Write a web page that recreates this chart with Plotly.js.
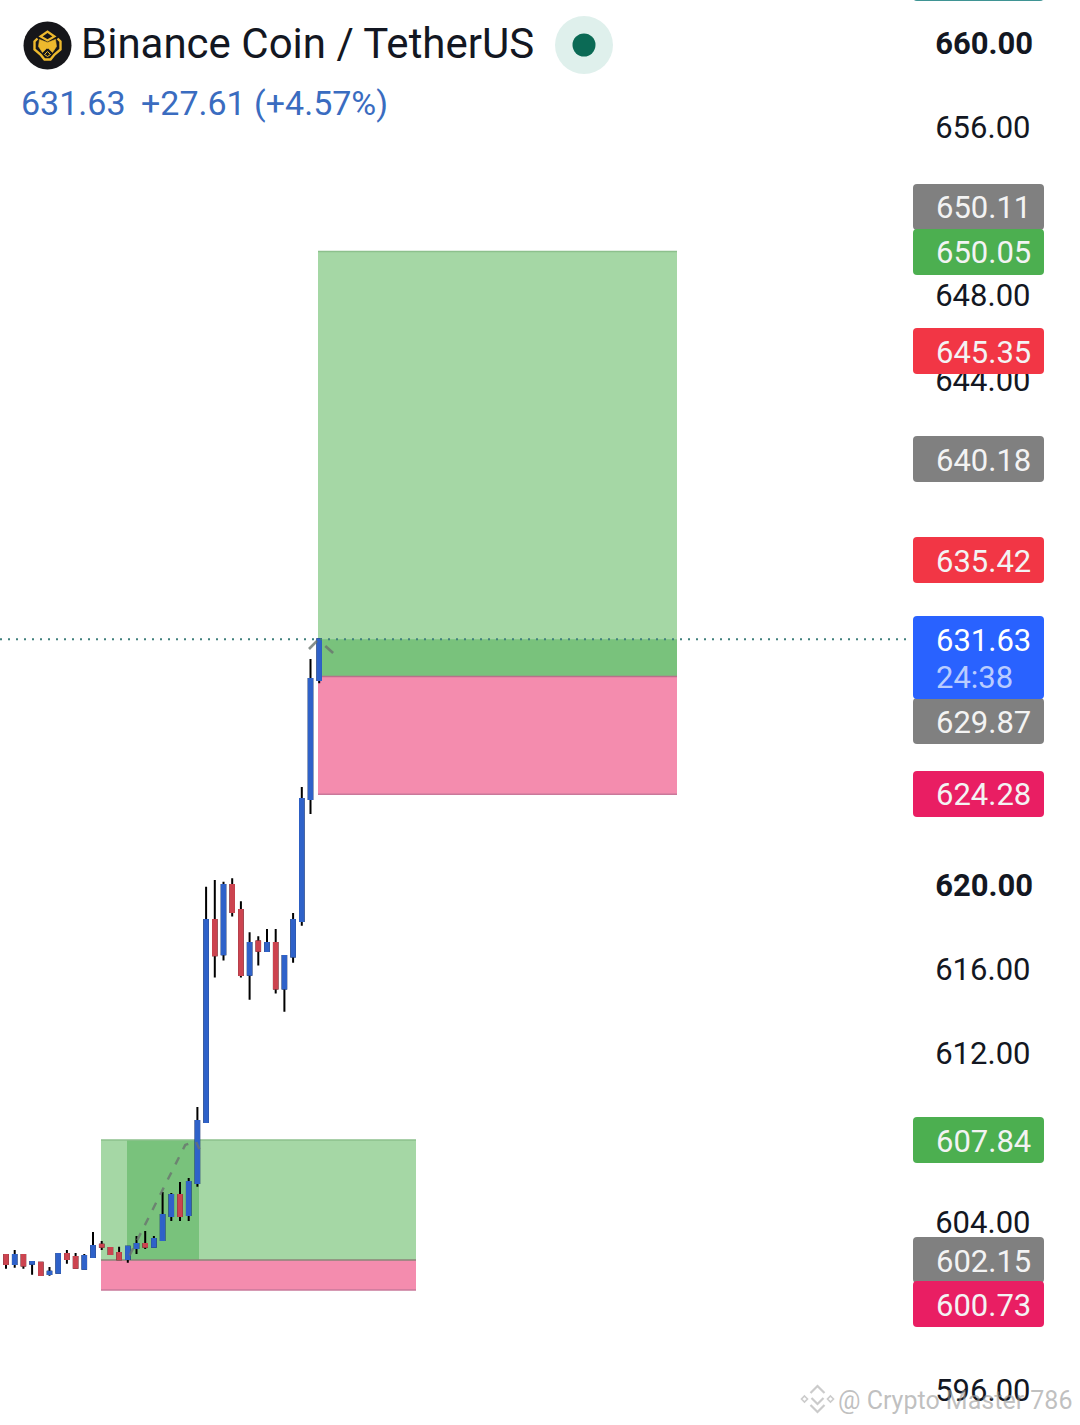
<!DOCTYPE html>
<html><head><meta charset="utf-8">
<script src="https://cdn.plot.ly/plotly-3.0.1.min.js"></script>
<style>html,body{margin:0;padding:0;background:#fff}#c{width:1080px;height:1425px}</style>
</head><body><div id="c"></div>
<script>
// ---- data ----
const opens  = [602.42,601.99,602.42,602.01,602.06,601.52,601.58,602.47,602.33,601.77,602.33,602.91,602.75,602.52,602.23,602.75,602.95,602.81,603.14,604.28,605.27,604.32,605.84,608.74,618.34,616.71,620.00,618.81,615.74,617.31,616.87,617.25,615.08,616.60,618.29,624.09,629.74];
const highs  = [602.42,602.66,602.42,602.09,602.09,601.85,602.47,602.66,602.52,602.47,603.52,603.09,602.77,602.81,602.81,603.33,603.56,603.33,605.42,605.37,605.89,606.08,609.45,619.92,620.24,620.16,620.32,619.23,617.75,617.56,617.91,617.91,616.63,618.67,624.66,630.74,631.68];
const lows   = [601.77,601.82,601.77,601.49,601.44,601.44,601.58,602.01,601.82,601.73,602.33,602.66,602.47,602.18,602.06,602.47,602.71,602.81,603.14,604.04,604.04,604.04,605.66,608.74,615.60,616.41,618.50,615.60,614.55,616.17,616.82,614.84,613.98,616.31,618.07,623.37,629.58];
const closes = [601.99,602.42,601.92,602.09,601.47,601.63,602.47,602.23,601.82,602.37,602.85,602.82,602.47,602.22,602.81,602.95,602.82,603.18,604.32,605.27,604.28,605.89,608.79,618.34,616.66,620.00,618.72,615.73,617.25,616.88,617.25,615.08,616.63,618.34,624.09,629.79,631.68];
const axisTicks = [596,600,604,608,612,616,620,624,628,632,636,640,644,648,652,656,660];
const boldTicks = [620,660];
const lastPrice = 631.68;
const tradeA = {entry:602.18, target:607.89, stop:600.76};
const tradeB = {entry:629.90, target:650.09, stop:624.31};
const tagText   = ['650.11','650.05','645.35','640.18','635.42','629.87','624.28','607.84','602.15','600.73'];
const tagColors = ['#808080','#4caf50','#f23645','#808080','#f23645','#808080','#e91e63','#4caf50','#808080','#e91e63'];
const tagCenters= [207,252,351,459,560,721,794,1140,1260,1304];
const pathAx = [14.2,20.6,21.8,22.6], pathAy = [602.4,607.65,607.84,607.13];
const headBx1 = [34.83,35.75], headBy1 = [631.21,631.6];
const headBx2 = [36.7,37.6],  headBy2 = [631.35,631.02];

// ---- geometry ----
const W=913, H=1425;
const px=x=>x/W, py=y=>1-y/H;
const idx=x=>(x-6)/8.7;
const xs=opens.map((_,i)=>i);
const UP='#2f62c9', DOWN='#cc4450';
const ARROW='rgba(105,115,110,.8)';

const traces=[
 {type:'candlestick',x:xs,open:opens,high:highs,low:lows,close:closes,whiskerwidth:0,
  increasing:{line:{color:'#000',width:2},fillcolor:'#000'},decreasing:{line:{color:'#000',width:2},fillcolor:'#000'},hoverinfo:'skip',showlegend:false},
 {type:'candlestick',x:xs,open:opens,close:closes,
  high:opens.map((o,i)=>Math.max(o,closes[i])),low:opens.map((o,i)=>Math.min(o,closes[i])),whiskerwidth:0,
  increasing:{line:{color:UP,width:2},fillcolor:UP},decreasing:{line:{color:DOWN,width:2},fillcolor:DOWN},hoverinfo:'skip',showlegend:false},
 {type:'scatter',mode:'lines',x:pathAx,y:pathAy,line:{color:ARROW,width:2.4,dash:'8px 9px'},hoverinfo:'skip',showlegend:false},
 {type:'scatter',mode:'lines',x:headBx1,y:headBy1,line:{color:ARROW,width:2.6},hoverinfo:'skip',showlegend:false},
 {type:'scatter',mode:'lines',x:headBx2,y:headBy2,line:{color:ARROW,width:2.6},hoverinfo:'skip',showlegend:false}
];

const rect=(x0,x1,y0,y1,fill,lc,lw)=>({type:'rect',xref:'x',yref:'y',x0,x1,y0,y1,fillcolor:fill,line:{color:lc||fill,width:lw||0},layer:'below'});
const hline=(x0,x1,y,c)=>({type:'line',xref:'x',yref:'y',x0,x1,y0:y,y1:y,line:{color:c,width:1.5},layer:'below'});
const GREEN='#a5d7a5',DARK='#79c27c',PINK='#f48cae';
const Ax0=idx(101),Ax1=idx(416),Ad0=idx(127),Ad1=idx(199),Bx0=idx(318),Bx1=idx(677);
const shapes=[
 rect(Ax0,Ax1,tradeA.entry,tradeA.target,GREEN), rect(Ad0,Ad1,tradeA.entry,tradeA.target,DARK), rect(Ax0,Ax1,tradeA.stop,tradeA.entry,PINK),
 hline(Ax0,Ax1,tradeA.target,'#8dc08d'),hline(Ax0,Ax1,tradeA.entry,'#8b8478'),hline(Ax0,Ax1,tradeA.stop,'#c9789a'),
 rect(Bx0,Bx1,tradeB.entry,tradeB.target,GREEN), rect(Bx0,Bx1,tradeB.entry,lastPrice,DARK), rect(Bx0,Bx1,tradeB.stop,tradeB.entry,PINK),
 hline(Bx0,Bx1,tradeB.target,'#8dc08d'),hline(Bx0,Bx1,tradeB.entry,'#b9708a'),hline(Bx0,Bx1,tradeB.stop,'#c9789a'),
 {type:'line',xref:'x',yref:'y',x0:idx(0),x1:idx(906),y0:lastPrice,y1:lastPrice,line:{color:'#3f7f7c',width:2,dash:'2px 6px'},layer:'above'}
];
const rr=(x0,x1,h,r)=>`M${x0+r},${-h/2} L${x1-r},${-h/2} Q${x1},${-h/2} ${x1},${-h/2+r} L${x1},${h/2-r} Q${x1},${h/2} ${x1-r},${h/2} L${x0+r},${h/2} Q${x0},${h/2} ${x0},${h/2-r} L${x0},${-h/2+r} Q${x0},${-h/2} ${x0+r},${-h/2} Z`;
const tag=(cy,h,col)=>({type:'path',xref:'paper',yref:'paper',xsizemode:'pixel',ysizemode:'pixel',xanchor:px(913),yanchor:py(cy),path:rr(0,131,h,4),fillcolor:col,line:{width:0},layer:'above'});
tagColors.forEach((c,i)=>shapes.push(tag(tagCenters[i],46,c)));
shapes.push(tag(657.5,83,'#2962ff'));
shapes.push(tag(-1,4,'#3f9494'));
const circ=(cx,cy,rx,ry,col)=>({type:'circle',xref:'paper',yref:'paper',x0:px(cx-rx),x1:px(cx+rx),y0:py(cy+ry),y1:py(cy-ry),fillcolor:col,line:{width:0},layer:'above'});
shapes.push(circ(47.5,45.5,24,24,'#16161a'),circ(584,45,29,29,'#dff0ec'),circ(584,45,11.5,11.5,'#0b6a55'));
const icon=(cx,cy,path,fill,lc,lw)=>({type:'path',xref:'paper',yref:'paper',xsizemode:'pixel',ysizemode:'pixel',xanchor:px(cx),yanchor:py(cy),path,fillcolor:fill,line:{color:lc,width:lw},layer:'above'});
const NONE='rgba(0,0,0,0)',GOLD='#eeb92d';
shapes.push(icon(47.5,45.5,'M-7,9 L0,14 L7,9 L0,5 Z',NONE,GOLD,2.2));
shapes.push(icon(47.5,45.5,'M-10,7 L-13,4 L-13,-4 L-7,-9 L-3,-14 L3,-14 L7,-9 L13,-4 L13,4 L10,7',NONE,GOLD,2.4));
shapes.push(icon(47.5,45.5,'M0,3 L8,6 L9,-1 L5,-7 L1,-3 L-1,-3 L-5,-7 L-9,-1 L-8,6 Z',GOLD,GOLD,0.6));
shapes.push(icon(47.5,45.5,'M0,-6 L3,-9 L0,-11 L-3,-9 Z','#16161a',GOLD,1));
const WM='rgba(175,175,175,.65)';
shapes.push(icon(817.5,1399,'M-7,6 L0,13 L7,6',NONE,WM,2.2));
shapes.push(icon(817.5,1399,'M-7,-6 L0,-13 L7,-6',NONE,WM,2.2));
shapes.push(icon(817.5,1399,'M-6,1 L0,-5 L6,1',NONE,WM,2.2));
shapes.push(icon(817.5,1399,'M-13,3 L-10,0 L-13,-3 L-16,0 Z',NONE,WM,1.6));
shapes.push(icon(817.5,1399,'M13,3 L16,0 L13,-3 L10,0 Z',NONE,WM,1.6));

const ann=(x,cy,text,size,color,extra)=>Object.assign({xref:'paper',yref:'paper',x:px(x),y:py(cy),xanchor:'left',yanchor:'middle',text,showarrow:false,font:{family:'Roboto',size,color},borderpad:0},extra||{});
const annotations=[
 ann(80,43.5,'Binance Coin / TetherUS',42,'#131722'),
 ann(20,102.5,'631.63',34,'#3a6cc0'),
 ann(140,102.5,'+27.61 (+4.57%)',34,'#3a6cc0'),
 ann(935,640,'631.63',31,'#ffffff'),
 ann(935,677,'24:38',31,'#b9ccff'),
 ann(837,1400.5,'@ Crypto Master 786',25,'rgba(150,150,150,.6)')
];
tagText.forEach((t,i)=>annotations.push(ann(935,tagCenters[i]+1,t,31,'#f3f3f3')));

const layout={
 width:1080,height:1425,paper_bgcolor:'#fff',plot_bgcolor:'#fff',showlegend:false,
 margin:{l:0,r:167,t:0,b:0,pad:0},boxgap:0.42,
 xaxis:{range:[idx(0),idx(913)],visible:false,rangeslider:{visible:false},fixedrange:true},
 yaxis:{side:'right',range:[660-(1425-43)/21.05,660+43/21.05],showgrid:false,zeroline:false,showline:false,
  tickvals:axisTicks,ticktext:axisTicks.map(v=>boldTicks.includes(v)?'<b>'+v.toFixed(2)+'</b>':v.toFixed(2)),
  ticks:'outside',ticklen:15,tickwidth:0,tickcolor:'rgba(0,0,0,0)',tickfont:{family:'Roboto',size:31,color:'#131722'},fixedrange:true,automargin:false},
 shapes,annotations
};
Plotly.newPlot('c',traces,layout,{displayModeBar:false,staticPlot:true});
</script></body></html>
